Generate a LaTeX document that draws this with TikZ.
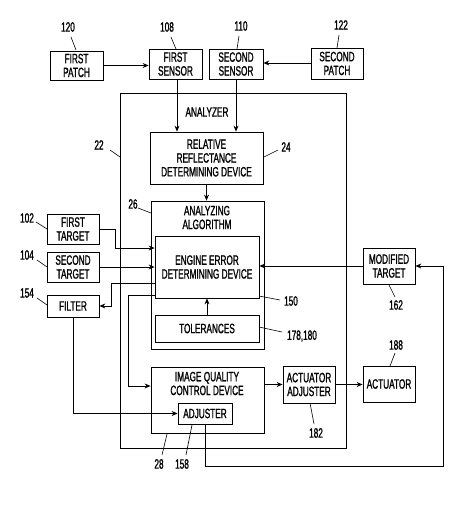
\documentclass[tikz,border=0pt]{standalone}
\usepackage{fontspec}
\setmainfont{Liberation Sans}[FakeStretch=0.61,FakeBold=1.2]
\usetikzlibrary{arrows.meta,calc}
\tikzset{
  box/.style={draw,line width=0.8pt,inner sep=0pt,align=center,font=\fontsize{13.5}{13.8}\selectfont},
  lbl/.style={inner sep=0pt,align=center,font=\fontsize{13.5}{13.8}\selectfont},
  arr/.style={line width=0.8pt,-{Stealth[length=6pt,width=5pt]}},
  ln/.style={line width=0.8pt},
  lead/.style={line width=0.6pt}
}
\begin{document}
\begin{tikzpicture}[x=1pt,y=-1pt]
\useasboundingbox (0,0) rectangle (474,524);
% analyzer
\node[box,minimum width=226,minimum height=355] (an) at (233,270.5) {};
\node[lbl] (anl) at (207,112) {ANALYZER};
% top row
\node[box,minimum width=53,minimum height=29] (fp) at (76.5,65.5) {FIRST\\PATCH};
\node[box,minimum width=53,minimum height=30] (fs) at (175.5,64) {FIRST\\SENSOR};
\node[box,minimum width=54,minimum height=30] (ss) at (236,64) {SECOND\\SENSOR};
\node[box,minimum width=52,minimum height=31] (sp) at (337,63.5) {SECOND\\PATCH};
% inner
\node[box,minimum width=113,minimum height=52] (rr) at (206.5,158) {RELATIVE\\REFLECTANCE\\DETERMINING DEVICE};
\node[box,minimum width=113,minimum height=148] (aa) at (207.5,275) {};
\node[lbl] (aal) at (207,217.5) {ANALYZING\\ALGORITHM};
\node[box,minimum width=104,minimum height=62] (ee) at (207,267) {ENGINE ERROR\\DETERMINING DEVICE};
\node[box,minimum width=104,minimum height=27] (tol) at (207,328.5) {TOLERANCES};
\node[box,minimum width=113,minimum height=66] (iq) at (207.5,400) {};
\node[lbl] (iql) at (207,383.5) {IMAGE QUALITY\\CONTROL DEVICE};
\node[box,minimum width=54,minimum height=21] (adj) at (205,413.5) {ADJUSTER};
\node[box,minimum width=52,minimum height=37] (aad) at (309,384.5) {ACTUATOR\\ADJUSTER};
% left
\node[box,minimum width=52,minimum height=30] (ft) at (73,229) {FIRST\\TARGET};
\node[box,minimum width=52,minimum height=30] (st) at (73,267) {SECOND\\TARGET};
\node[box,minimum width=52,minimum height=22] (fi) at (73,306) {FILTER};
% right
\node[box,minimum width=52,minimum height=36] (mt) at (389,266) {MODIFIED\\TARGET};
\node[box,minimum width=52,minimum height=36] (act) at (389,384) {ACTUATOR};
% connectors
\draw[arr] (fp.east) -- (fp.east -| fs.west);
\draw[arr] ([yshift=0.5pt]sp.west) -- ([yshift=0.5pt]sp.west -| ss.east);
\draw[arr] ([xshift=1.5pt]fs.south) -- ([xshift=1.5pt]fs.south |- rr.north);
\draw[arr] (ss.south) -- (ss.south |- rr.north);
\draw[arr] (rr.south) -- (rr.south |- aa.north);
\draw[arr] (ft.east) -- ++(16,0) |- ([yshift=19pt]ee.west);
\draw[arr] (st.east) -- (st.east -| ee.west);
\draw[arr] ([yshift=-16pt]ee.west) -- ++(-43,0) |- (fi.east);
\draw[arr] ([yshift=-28pt]ee.west) -- ++(-26,0) |- ([yshift=14pt]iq.west);
\draw[arr] (mt.west) -- (mt.west -| ee.east);
\draw[arr] (tol.north) -- (ee.south);
\draw[arr] (aad.west -| iq.east) -- (aad.west);
\draw[arr] (aad.east) -- (aad.east -| act.west);
\draw[arr] (fi.south) |- (adj.west);
\coordinate (ret) at (443,466);
\draw[arr] (adj.south) |- (ret) |- (mt.east);
% reference labels
\node[lbl] (l120) at (68,27) {120};
\node[lbl] (l108) at (167,27) {108};
\node[lbl] (l110) at (241,26) {110};
\node[lbl] (l122) at (341,25) {122};
\node[lbl] (l22) at (99,145) {22};
\node[lbl] (l24) at (286,147) {24};
\node[lbl] (l26) at (133,204) {26};
\node[lbl] (l102) at (27,218) {102};
\node[lbl] (l104) at (27,255) {104};
\node[lbl] (l154) at (27,293) {154};
\node[lbl] (l150) at (291,301) {150};
\node[lbl] (l162) at (396,305) {162};
\node[lbl] (l178) at (302,336) {178,180};
\node[lbl] (l188) at (396,345) {188};
\node[lbl] (l182) at (316,433) {182};
\node[lbl] (l28) at (159,464) {28};
\node[lbl] (l158) at (182,464) {158};
% leaders
\draw[lead] (71,37) -- (76,50);
\draw[lead] (171,37) -- (176,49);
\draw[lead] (239,36) -- (237,49);
\draw[lead] (339,35) -- (337,48);
\draw[lead] (110,150) -- (120,157);
\draw[lead] (278,150) -- (264,157);
\draw[lead] (138,208) -- (151,213);
\draw[lead] (36,222) -- (47,229);
\draw[lead] (37,260) -- (47,267);
\draw[lead] (37,298) -- (47,305);
\draw[lead] (280,300) -- (259,296);
\draw[lead] (395,297) -- (389,285);
\draw[lead] (282,332) -- (259,327);
\draw[lead] (395,353) -- (390,366);
\draw[lead] (314,424) -- (310,403);
\draw[lead] (162,455) -- (167,434);
\draw[lead] (186,455) -- (192,425);
\end{tikzpicture}
\end{document}
